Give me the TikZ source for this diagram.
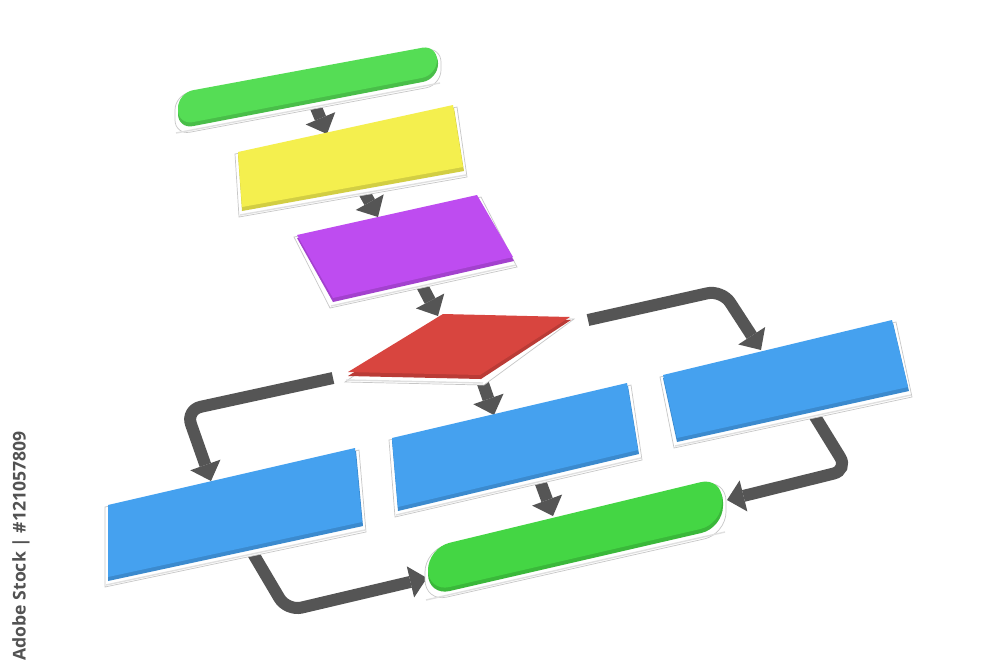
\documentclass[tikz,border=0pt]{standalone}
\usepackage{fontspec}
\newfontfamily\stockfont{Open Sans}
\usetikzlibrary{calc}
\usetikzlibrary{arrows.meta}

\definecolor{pillgreen}{HTML}{55DD55}
\definecolor{stepyellow}{HTML}{F4EF4E}
\definecolor{procpurple}{HTML}{BE4CF0}
\definecolor{decred}{HTML}{D8453F}
\definecolor{boxblue}{HTML}{45A1EF}
\definecolor{endgreen}{HTML}{44D644}
\definecolor{arrowgray}{HTML}{555555}

\tikzset{
  slabbase/.style={fill=white, draw=black!22, line width=0.4pt},
  flowarrow/.style={draw=arrowgray, line width=2.4mm, rounded corners=3mm,
    -{Triangle[width=6.4mm, length=3.4mm, line width=0pt]}},
}

% #1 corner style, #2 colour, #3..#6 corners: top left, top right, bottom right, bottom left
\newcommand{\slab}[6][sharp corners]{%
  \draw[slabbase, #1] ($#3+(-3,2)$) -- ($#4+(4,2)$) -- ($#5+(4,10)$) -- ($#6+(-3,10)$) -- cycle;
  \draw[black!12, line width=0.8pt, #1] ($#6+(-2,8)$) -- ($#5+(3,8)$);
  \fill[#2!86!black, #1] ($#3+(0,3)$) -- ($#4+(1,3)$) -- ($#5+(1,4)$) -- ($#6+(0,4)$) -- cycle;
  \fill[#2, #1] #3 -- #4 -- #5 -- #6 -- cycle;
}

\begin{document}
\begin{tikzpicture}[x=0.2mm, y=-0.2mm]
    \path[use as bounding box, fill=white] (0,0) rectangle (1000,667);

    \coordinate (start-out) at (312,98);
    \coordinate (step-in) at (327,134);
    \coordinate (step-out) at (359,183);
    \coordinate (proc-in) at (378,217);
    \coordinate (proc-out) at (417,276);
    \coordinate (dec-in) at (438,316);
    \coordinate (dec-down) at (479,372);
    \coordinate (dec-right) at (588,320);
    \coordinate (dec-left) at (333,378);
    \coordinate (mid-in) at (494,415);
    \coordinate (mid-out) at (536,470);
    \coordinate (right-in) at (761,350);
    \coordinate (right-out) at (808,405);
    \coordinate (left-in) at (211,481);
    \coordinate (left-out) at (248,545);
    \coordinate (end-top) at (553,516);
    \coordinate (end-left) at (427,578);
    \coordinate (end-right) at (727,500);

    \draw[flowarrow] (start-out) -- (step-in);
    \draw[flowarrow] (step-out) -- (proc-in);
    \draw[flowarrow] (proc-out) -- (dec-in);
    \draw[flowarrow] (dec-down) -- (mid-in);
    \draw[flowarrow] (mid-out) -- (end-top);
    \draw[flowarrow] (dec-right) -- (722,290) -- (right-in);
    \draw[flowarrow] (dec-left) -- (186,410) -- (left-in);
    \draw[flowarrow] (left-out) -- (287,611) -- (end-left);
    \draw[flowarrow] (right-out) -- (848,470) -- (end-right);

    \slab[rounded corners=3mm]{pillgreen}{(178,93)}{(437,45)}{(437,75)}{(178,125)}
    \slab{stepyellow}{(238,152)}{(453,105)}{(463,167)}{(242,207)}
    \slab{procpurple}{(297,235)}{(477,195)}{(513,257)}{(333,298)}
    \slab{decred}{(443,314)}{(570,317)}{(480,375)}{(348,372)}
    \slab{boxblue}{(663,375)}{(892,320)}{(908,387)}{(677,438)}
    \slab{boxblue}{(392,438)}{(627,383)}{(638,450)}{(398,507)}
    \slab{boxblue}{(108,505)}{(355,448)}{(362,522)}{(108,577)}
    \slab[rounded corners=4.4mm]{endgreen}{(428,548)}{(722,477)}{(722,524)}{(428,592)}

    \node[rotate=90, text=black!68, font=\stockfont\bfseries\fontsize{10}{12}\selectfont] (stock) at (21,546) {Adobe Stock | \#121057809};
\end{tikzpicture}
\end{document}
